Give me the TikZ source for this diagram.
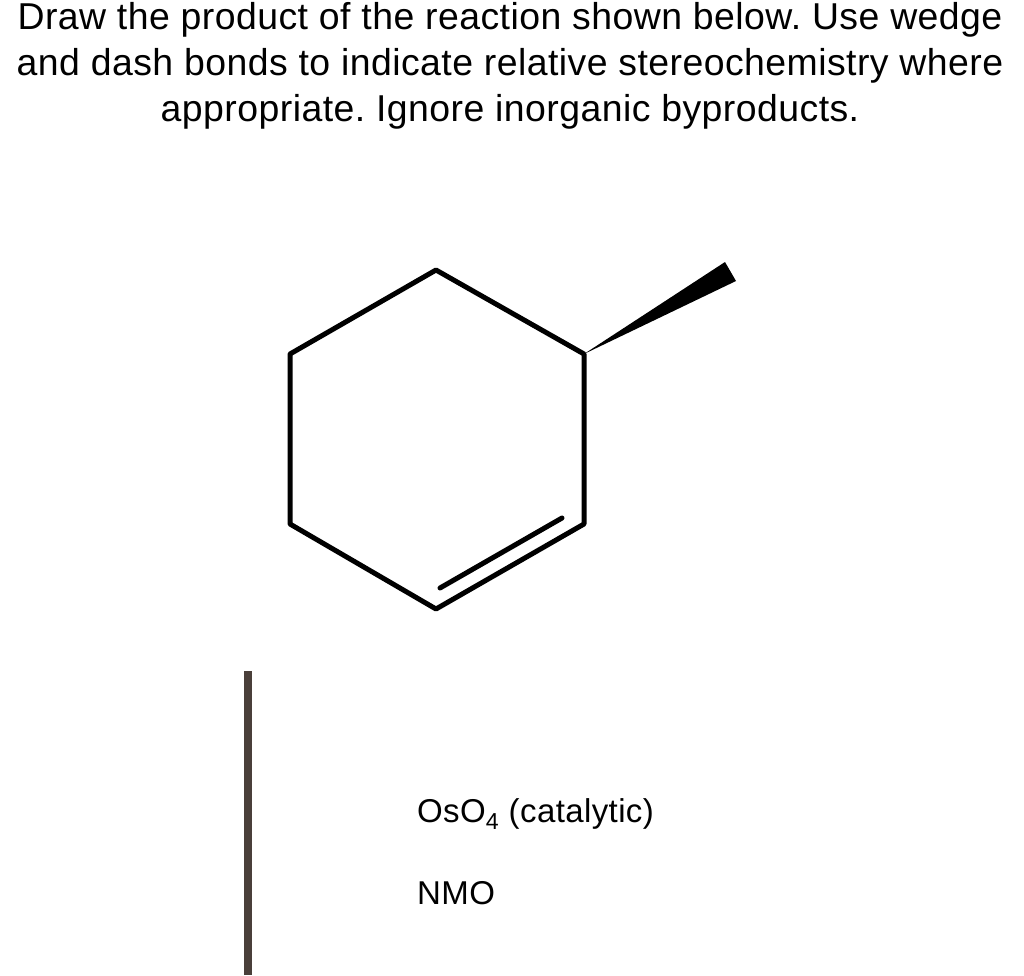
\documentclass[tikz,border=0pt]{standalone}
\usepackage{fontspec}
\setmainfont[LetterSpace=1.2]{Liberation Sans}
\definecolor{barbrown}{HTML}{4A3F3A}
\frenchspacing
\begin{document}
\begin{tikzpicture}[x=1pt,y=-1pt,bond/.style={line width=5pt,line cap=round,line join=round},
	prompt/.style={font=\fontsize{37.4}{46}\selectfont,inner sep=0pt,align=center},
	reagent/.style={font=\fontsize{33}{40}\selectfont,inner sep=0pt,anchor=base west}]
	\useasboundingbox (0,0) rectangle (1024,975);
	\node (prompt) [prompt] at (510,66) {Draw the product of the reaction shown below. Use wedge\\and dash bonds to indicate relative stereochemistry where\\appropriate. Ignore inorganic byproducts.};

	\coordinate (top) at (436,270);
	\coordinate (stereo) at (584,354);
	\coordinate (vinyl) at (584,524);
	\coordinate (bottom) at (436,609);
	\coordinate (lowleft) at (290,524);
	\coordinate (upleft) at (290,354);
	\coordinate (innerA) at (440,588);
	\coordinate (innerB) at (562,518);
	\coordinate (tipA) at (725,262);
	\coordinate (tipB) at (736,281);

	\draw[bond] (top) -- (stereo) -- (vinyl) -- (bottom) -- (lowleft) -- (upleft) -- cycle;
	\draw[bond] (innerA) -- (innerB);
	\fill (stereo) -- (tipA) -- (tipB) -- cycle;

	\coordinate (barTop) at (248,671);
	\coordinate (barEnd) at (248,975);
	\draw[line width=8pt,color=barbrown] (barTop) -- (barEnd);

	\node (oso) [reagent] at (417,822) {OsO\textsubscript{4} (catalytic)};
	\node (nmo) [reagent] at (417,904) {NMO};
\end{tikzpicture}
\end{document}
